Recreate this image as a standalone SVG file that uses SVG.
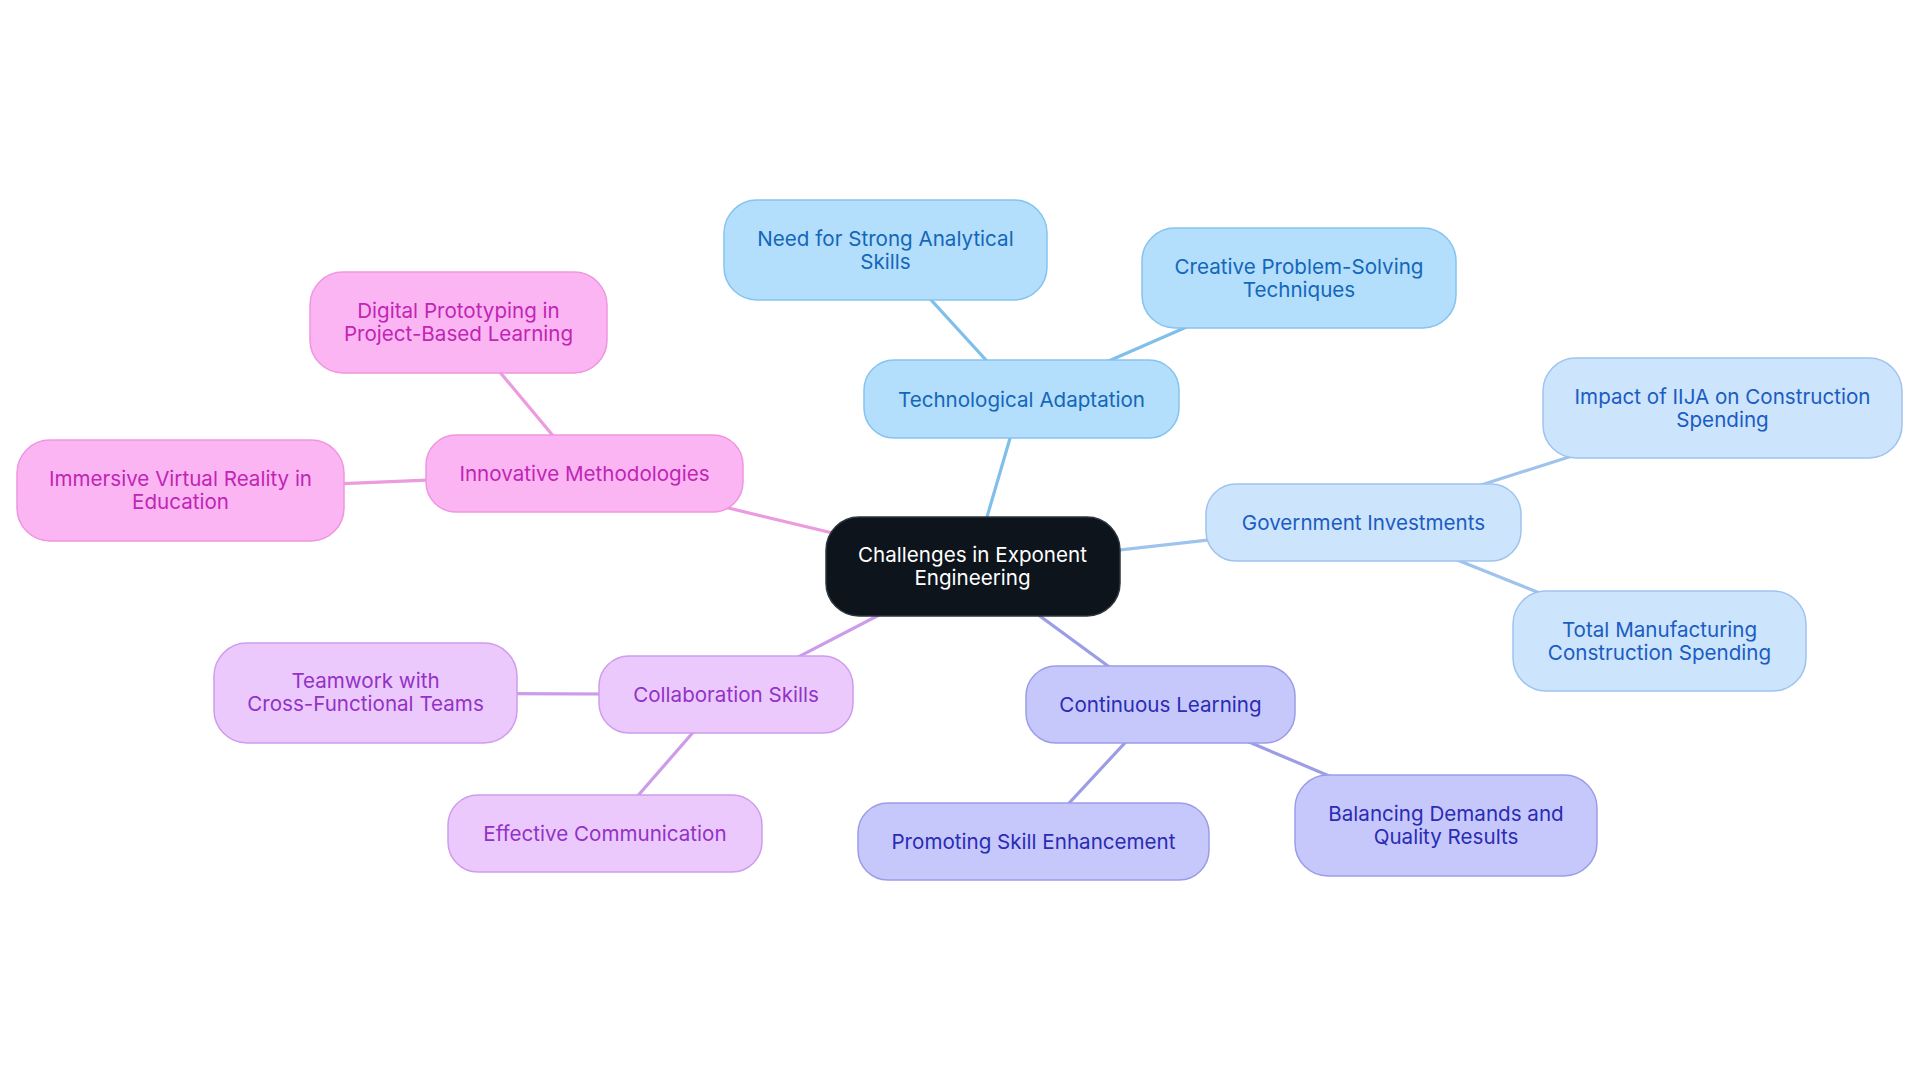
<svg xmlns="http://www.w3.org/2000/svg" width="1920" height="1083" viewBox="0 0 1920 1083">
<style>
text{font-family:Inter,"Noto Sans",sans-serif;font-size:20.6px;text-anchor:middle}
.e{fill:none;stroke-width:3.2;stroke-linecap:round}
.b0 rect{fill:#b3defc;stroke:#86c3ee;stroke-width:1.5}
.b0 text{fill:#1467b8}
.b1 rect{fill:#cce4fc;stroke:#9fc3ee;stroke-width:1.5}
.b1 text{fill:#1b5cc2}
.b2 rect{fill:#c6c8fc;stroke:#9a9de6;stroke-width:1.5}
.b2 text{fill:#2b2bb3}
.b3 rect{fill:#ebc9fc;stroke:#cf9cec;stroke-width:1.5}
.b3 text{fill:#9332c6}
.b4 rect{fill:#fcb5f3;stroke:#ee96e0;stroke-width:1.5}
.b4 text{fill:#c025b4}
.root rect{fill:#0d141b;stroke:#2e353d;stroke-width:1.5}
.root text{fill:#ffffff}
</style>
<rect width="1920" height="1083" fill="#ffffff"/>
<g id="connectors">
<line class="e" stroke="#7fbfea" x1="972.5" y1="566.5" x2="1021.5" y2="399"/>
<line class="e" stroke="#7fbfea" x1="1021.5" y1="399" x2="885.5" y2="250"/>
<line class="e" stroke="#7fbfea" x1="1021.5" y1="399" x2="1299" y2="278"/>
<line class="e" stroke="#9ec3ec" x1="972.5" y1="566.5" x2="1363.5" y2="522.5"/>
<line class="e" stroke="#9ec3ec" x1="1363.5" y1="522.5" x2="1722.5" y2="408"/>
<line class="e" stroke="#9ec3ec" x1="1363.5" y1="522.5" x2="1659.5" y2="641"/>
<line class="e" stroke="#9d9de6" x1="972.5" y1="566.5" x2="1160.5" y2="704.5"/>
<line class="e" stroke="#9d9de6" x1="1160.5" y1="704.5" x2="1033.5" y2="841.5"/>
<line class="e" stroke="#9d9de6" x1="1160.5" y1="704.5" x2="1446" y2="825.5"/>
<line class="e" stroke="#cc9cea" x1="972.5" y1="566.5" x2="726" y2="694.5"/>
<line class="e" stroke="#cc9cea" x1="726" y1="694.5" x2="365.5" y2="693"/>
<line class="e" stroke="#cc9cea" x1="726" y1="694.5" x2="605" y2="833.5"/>
<line class="e" stroke="#ec9bde" x1="972.5" y1="566.5" x2="584.5" y2="473.5"/>
<line class="e" stroke="#ec9bde" x1="584.5" y1="473.5" x2="458.5" y2="322.5"/>
<line class="e" stroke="#ec9bde" x1="584.5" y1="473.5" x2="180.5" y2="490.5"/>
</g>
<g id="root" class="root"><rect x="826" y="517" width="294" height="99" rx="33"/><text x="972.5" y="562">Challenges in Exponent</text><text x="972.5" y="585">Engineering</text></g>
<g id="tech" class="b0"><rect x="864" y="360" width="315" height="78" rx="30"/><text x="1021.5" y="406.5">Technological Adaptation</text></g>
<g id="need" class="b0"><rect x="724" y="200" width="323" height="100" rx="33"/><text x="885.5" y="245.5">Need for Strong Analytical</text><text x="885.5" y="268.5">Skills</text></g>
<g id="creative" class="b0"><rect x="1142" y="228" width="314" height="100" rx="33"/><text x="1299" y="273.5">Creative Problem-Solving</text><text x="1299" y="296.5">Techniques</text></g>
<g id="gov" class="b1"><rect x="1206" y="484" width="315" height="77" rx="30"/><text x="1363.5" y="530">Government Investments</text></g>
<g id="impact" class="b1"><rect x="1543" y="358" width="359" height="100" rx="33"/><text x="1722.5" y="403.5">Impact of IIJA on Construction</text><text x="1722.5" y="426.5">Spending</text></g>
<g id="total" class="b1"><rect x="1513" y="591" width="293" height="100" rx="33"/><text x="1659.5" y="636.5">Total Manufacturing</text><text x="1659.5" y="659.5">Construction Spending</text></g>
<g id="cont" class="b2"><rect x="1026" y="666" width="269" height="77" rx="30"/><text x="1160.5" y="712">Continuous Learning</text></g>
<g id="promo" class="b2"><rect x="858" y="803" width="351" height="77" rx="30"/><text x="1033.5" y="849">Promoting Skill Enhancement</text></g>
<g id="balance" class="b2"><rect x="1295" y="775" width="302" height="101" rx="33"/><text x="1446" y="821">Balancing Demands and</text><text x="1446" y="844">Quality Results</text></g>
<g id="collab" class="b3"><rect x="599" y="656" width="254" height="77" rx="30"/><text x="726" y="702">Collaboration Skills</text></g>
<g id="team" class="b3"><rect x="214" y="643" width="303" height="100" rx="33"/><text x="365.5" y="688">Teamwork with</text><text x="365.5" y="711">Cross-Functional Teams</text></g>
<g id="effective" class="b3"><rect x="448" y="795" width="314" height="77" rx="30"/><text x="605" y="841">Effective Communication</text></g>
<g id="innov" class="b4"><rect x="426" y="435" width="317" height="77" rx="30"/><text x="584.5" y="481">Innovative Methodologies</text></g>
<g id="digital" class="b4"><rect x="310" y="272" width="297" height="101" rx="33"/><text x="458.5" y="318">Digital Prototyping in</text><text x="458.5" y="341">Project-Based Learning</text></g>
<g id="immersive" class="b4"><rect x="17" y="440" width="327" height="101" rx="33"/><text x="180.5" y="486">Immersive Virtual Reality in</text><text x="180.5" y="509">Education</text></g>
</svg>
